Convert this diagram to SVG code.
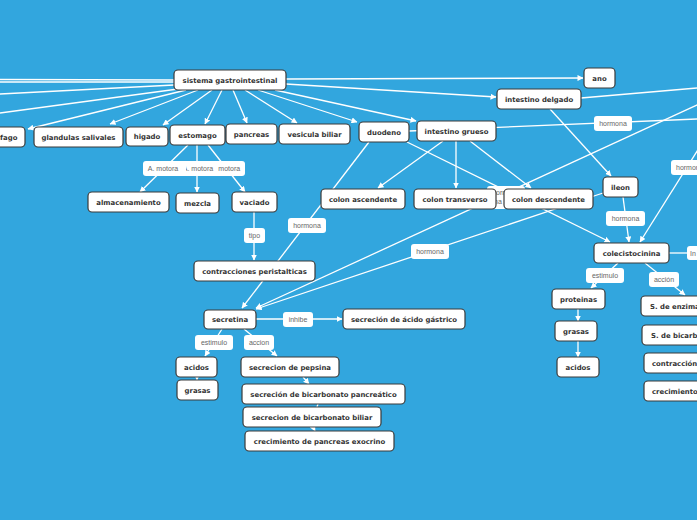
<svg xmlns="http://www.w3.org/2000/svg" width="697" height="520" viewBox="0 0 697 520">
<style>
.n rect{fill:#fff;stroke:#3a3a3a;stroke-width:1.2}
.n text{font-family:"DejaVu Sans",Verdana,sans-serif;font-weight:bold;font-size:6.9px;fill:#333;text-anchor:middle}
.n text.s{text-anchor:start}
.c line{stroke:#fff;stroke-width:1.3;fill:none}
.c line.a{marker-end:url(#ah)}
.l rect{fill:#fff}
.l text{font-family:"Liberation Sans",Arial,sans-serif;font-size:7px;fill:#666;text-anchor:middle}
.l text.s{text-anchor:start}
</style>
<defs>
<marker id="ah" markerUnits="userSpaceOnUse" markerWidth="6" markerHeight="6" refX="5.5" refY="3" orient="auto">
<path d="M0,0 L6,3 L0,6 z" fill="#fff"/>
</marker>
</defs>
<rect x="0" y="0" width="697" height="520" fill="#32a6de"/>
<g id="connectors" class="c">
<line x1="174" y1="80" x2="0" y2="79.5"/>
<line x1="174" y1="82" x2="0" y2="82"/>
<line x1="174" y1="85" x2="0" y2="94"/>
<line x1="178" y1="89" x2="0" y2="113"/>
<line class="a" x1="186" y1="90" x2="28" y2="129"/>
<line class="a" x1="198" y1="90" x2="110" y2="124"/>
<line class="a" x1="212" y1="90" x2="163" y2="125"/>
<line class="a" x1="222" y1="90" x2="205" y2="124"/>
<line class="a" x1="233" y1="90" x2="247" y2="123"/>
<line class="a" x1="245" y1="90" x2="297" y2="123"/>
<line class="a" x1="258" y1="90" x2="357" y2="122"/>
<line class="a" x1="275" y1="90" x2="416" y2="121"/>
<line class="a" x1="286" y1="79" x2="583" y2="78"/>
<line class="a" x1="286" y1="84" x2="496" y2="97"/>
<line x1="581" y1="98" x2="697" y2="88"/>
<line class="a" x1="550" y1="109" x2="611" y2="176"/>
<line x1="409" y1="131" x2="697" y2="119"/>
<line class="a" x1="369" y1="142" x2="242" y2="308"/>
<line class="a" x1="407" y1="142" x2="610" y2="242"/>
<line class="a" x1="443" y1="141" x2="378" y2="188"/>
<line class="a" x1="456" y1="141" x2="456" y2="188"/>
<line class="a" x1="470" y1="141" x2="531" y2="188"/>
<line class="a" x1="699" y1="104" x2="256" y2="308"/>
<line class="a" x1="603" y1="193" x2="256" y2="309"/>
<line class="a" x1="699" y1="148" x2="640" y2="242"/>
<line class="a" x1="623" y1="197" x2="629" y2="242"/>
<line x1="668" y1="253" x2="697" y2="253"/>
<line class="a" x1="618" y1="263" x2="591" y2="288"/>
<line class="a" x1="645" y1="263" x2="685" y2="295"/>
<line class="a" x1="578" y1="309" x2="578" y2="321"/>
<line class="a" x1="578" y1="341" x2="578" y2="357"/>
<line class="a" x1="188" y1="145" x2="140" y2="192"/>
<line class="a" x1="197" y1="145" x2="197" y2="192"/>
<line class="a" x1="208" y1="145" x2="245" y2="192"/>
<line class="a" x1="254" y1="212" x2="254" y2="260"/>
<line class="a" x1="222" y1="329" x2="205" y2="356"/>
<line class="a" x1="244" y1="329" x2="277" y2="356"/>
<line class="a" x1="256" y1="319" x2="342" y2="319"/>
<line class="a" x1="197" y1="376" x2="197" y2="380"/>
<line class="a" x1="303" y1="377" x2="309" y2="384"/>
<line x1="318" y1="404" x2="317" y2="407"/>
<line class="a" x1="313" y1="427" x2="315" y2="431"/>
</g>
<g id="labels" class="l">
<g><rect x="210" y="161" width="35" height="15" rx="3"/><text x="225" y="171">A. motora</text></g>
<g><rect x="178" y="161" width="39" height="15" rx="3"/><text x="198" y="171">A. motora</text></g>
<g><rect x="143" y="161" width="43" height="15" rx="3"/><text x="163" y="171">A. motora</text></g>
<g><rect x="244" y="228" width="21" height="15" rx="3"/><text x="254.5" y="238">tipo</text></g>
<g><rect x="288" y="218" width="38" height="15" rx="3"/><text x="307" y="228">hormona</text></g>
<g><rect x="411" y="244" width="38" height="15" rx="3"/><text x="430" y="254">hormona</text></g>
<g><rect x="594" y="116" width="38" height="15" rx="3"/><text x="613" y="126">hormona</text></g>
<g><rect x="487" y="186" width="38" height="14" rx="3"/><text x="506" y="195">hormona</text></g>
<g><rect x="469" y="195" width="38" height="14" rx="3"/><text x="488" y="204">hormona</text></g>
<g><rect x="671" y="160" width="40" height="15" rx="3"/><text class="s" x="676" y="170">hormona</text></g>
<g><rect x="606" y="211" width="39" height="15" rx="3"/><text x="625.5" y="221">hormona</text></g>
<g><rect x="687" y="246" width="30" height="14" rx="3"/><text class="s" x="690" y="255.5">In</text></g>
<g><rect x="586" y="268" width="38" height="15" rx="3"/><text x="605" y="278">estimulo</text></g>
<g><rect x="649" y="272" width="30" height="15" rx="3"/><text x="664" y="282">acción</text></g>
<g><rect x="195" y="335" width="38" height="15" rx="3"/><text x="214" y="345">estimulo</text></g>
<g><rect x="244" y="335" width="30" height="15" rx="3"/><text x="259" y="345">accion</text></g>
<g><rect x="283" y="312" width="30" height="15" rx="3"/><text x="298" y="322">inhibe</text></g>
</g>
<g id="n-sistema" class="n"><rect x="174" y="70" width="112" height="20" rx="4"/><text x="230" y="82.5">sistema gastrointestinal</text></g>
<g id="n-ano" class="n"><rect x="584" y="68" width="31" height="20" rx="4"/><text x="599.5" y="80.5">ano</text></g>
<g id="n-intestino-delgado" class="n"><rect x="497" y="89" width="84" height="20" rx="4"/><text x="539" y="101.5">intestino delgado</text></g>
<g id="n-esofago" class="n"><rect x="-30" y="127" width="55" height="20" rx="4"/><text x="2" y="139.5">esófago</text></g>
<g id="n-glandulas" class="n"><rect x="34" y="127" width="89" height="20" rx="4"/><text x="78.5" y="139.5">glandulas salivales</text></g>
<g id="n-higado" class="n"><rect x="126" y="127" width="42" height="19" rx="4"/><text x="147" y="139">higado</text></g>
<g id="n-estomago" class="n"><rect x="170" y="125" width="55" height="20" rx="4"/><text x="197.5" y="137.5">estomago</text></g>
<g id="n-pancreas" class="n"><rect x="226" y="124" width="51" height="20" rx="4"/><text x="251.5" y="136.5">pancreas</text></g>
<g id="n-vesicula" class="n"><rect x="279" y="124" width="71" height="20" rx="4"/><text x="314.5" y="136.5">vesicula biliar</text></g>
<g id="n-duodeno" class="n"><rect x="359" y="122" width="50" height="20" rx="4"/><text x="384" y="134.5">duodeno</text></g>
<g id="n-intestino-grueso" class="n"><rect x="417" y="121" width="79" height="20" rx="4"/><text x="456.5" y="133.5">intestino grueso</text></g>
<g id="n-almacenamiento" class="n"><rect x="88" y="192" width="81" height="20" rx="4"/><text x="128.5" y="204.5">almacenamiento</text></g>
<g id="n-mezcla" class="n"><rect x="176" y="193" width="43" height="20" rx="4"/><text x="197.5" y="205.5">mezcla</text></g>
<g id="n-vaciado" class="n"><rect x="232" y="192" width="45" height="20" rx="4"/><text x="254.5" y="204.5">vaciado</text></g>
<g id="n-contracciones" class="n"><rect x="194" y="261" width="121" height="20" rx="4"/><text x="254.5" y="273.5">contracciones peristalticas</text></g>
<g id="n-colon-ascendente" class="n"><rect x="321" y="189" width="84" height="20" rx="4"/><text x="363" y="201.5">colon ascendente</text></g>
<g id="n-colon-transverso" class="n"><rect x="414" y="189" width="82" height="20" rx="4"/><text x="455" y="201.5">colon transverso</text></g>
<g id="n-colon-descendente" class="n"><rect x="504" y="189" width="89" height="20" rx="4"/><text x="548.5" y="201.5">colon descendente</text></g>
<g id="n-ileon" class="n"><rect x="603" y="177" width="35" height="20" rx="4"/><text x="620.5" y="189.5">ileon</text></g>
<g id="n-colecistocinina" class="n"><rect x="594" y="243" width="75" height="20" rx="4"/><text x="631.5" y="255.5">colecistocinina</text></g>
<g id="n-secretina" class="n"><rect x="204" y="310" width="52" height="19" rx="4"/><text x="230" y="322">secretina</text></g>
<g id="n-acido-gastrico" class="n"><rect x="343" y="309" width="122" height="20" rx="4"/><text x="404" y="321.5">secreción de ácido gástrico</text></g>
<g id="n-acidos-1" class="n"><rect x="176" y="357" width="41" height="20" rx="4"/><text x="196.5" y="369.5">acidos</text></g>
<g id="n-grasas-1" class="n"><rect x="177" y="380" width="41" height="20" rx="4"/><text x="197.5" y="392.5">grasas</text></g>
<g id="n-pepsina" class="n"><rect x="241" y="357" width="98" height="20" rx="4"/><text x="290" y="369.5">secrecion de pepsina</text></g>
<g id="n-bic-pancreatico" class="n"><rect x="242" y="384" width="163" height="20" rx="4"/><text x="323.5" y="396.5">secreción de bicarbonato pancreático</text></g>
<g id="n-bic-biliar" class="n"><rect x="243" y="407" width="138" height="20" rx="4"/><text x="312" y="419.5">secrecion de bicarbonato biliar</text></g>
<g id="n-crecimiento-exocrino" class="n"><rect x="245" y="431" width="149" height="20" rx="4"/><text x="319.5" y="443.5">crecimiento de pancreas exocrino</text></g>
<g id="n-proteinas" class="n"><rect x="552" y="289" width="53" height="20" rx="4"/><text x="578.5" y="301.5">proteinas</text></g>
<g id="n-grasas-2" class="n"><rect x="555" y="321" width="42" height="20" rx="4"/><text x="576" y="333.5">grasas</text></g>
<g id="n-acidos-2" class="n"><rect x="557" y="357" width="42" height="20" rx="4"/><text x="578" y="369.5">acidos</text></g>
<g id="n-s-enzimas" class="n"><rect x="641" y="296" width="70" height="20" rx="4"/><text class="s" x="650" y="308.5">S. de enzima</text></g>
<g id="n-s-bicarbonato" class="n"><rect x="642" y="325" width="70" height="20" rx="4"/><text class="s" x="651" y="337.5">S. de bicarb</text></g>
<g id="n-contraccion" class="n"><rect x="644" y="353" width="70" height="20" rx="4"/><text class="s" x="652" y="365.5">contracción</text></g>
<g id="n-crecimiento" class="n"><rect x="644" y="381" width="70" height="20" rx="4"/><text class="s" x="652" y="393.5">crecimiento</text></g>
</svg>
